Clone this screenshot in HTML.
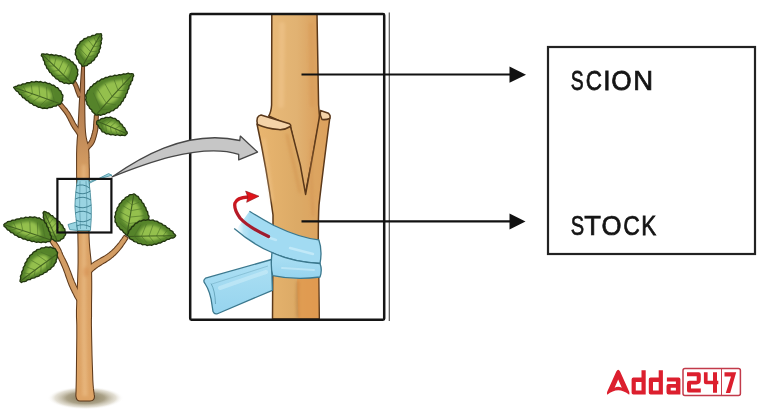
<!DOCTYPE html>
<html><head><meta charset="utf-8"><style>
html,body{margin:0;padding:0;background:#fff;}
body{width:768px;height:417px;overflow:hidden;position:relative;}
svg{position:absolute;left:0;top:0;font-family:"Liberation Sans",sans-serif;filter:blur(0.45px);}
</style></head><body>
<svg width="768" height="417" viewBox="0 0 768 417">
<defs>
<filter id="nofx"><feOffset dx="0" dy="0"/></filter>
<filter id="blur2" x="-50%" y="-10%" width="200%" height="120%"><feGaussianBlur stdDeviation="1.5"/></filter>
<filter id="blur1" x="-20%" y="-20%" width="140%" height="140%"><feGaussianBlur stdDeviation="1.6"/></filter>
<radialGradient id="shadow" cx="0.5" cy="0.5" r="0.5">
<stop offset="0" stop-color="#7a6c48" stop-opacity="0.95"/>
<stop offset="0.5" stop-color="#958a6a" stop-opacity="0.8"/>
<stop offset="0.8" stop-color="#c2baa2" stop-opacity="0.45"/>
<stop offset="1" stop-color="#ffffff" stop-opacity="0"/>
</radialGradient>
<linearGradient id="wood" x1="0" x2="1" y1="0" y2="0">
<stop offset="0" stop-color="#e8b978"/>
<stop offset="0.55" stop-color="#e1b272"/>
<stop offset="1" stop-color="#da9f5c"/>
</linearGradient>
<linearGradient id="wood2" gradientUnits="userSpaceOnUse" x1="257" x2="330" y1="0" y2="0">
<stop offset="0" stop-color="#e9b670"/>
<stop offset="0.55" stop-color="#dcaa66"/>
<stop offset="1" stop-color="#dca05c"/>
</linearGradient>
<linearGradient id="stem" x1="0" x2="0" y1="0" y2="1">
<stop offset="0" stop-color="#a8714a"/>
<stop offset="0.2" stop-color="#c08a58"/>
<stop offset="0.32" stop-color="#d8a064"/>
<stop offset="1" stop-color="#dea466"/>
</linearGradient>
<linearGradient id="trunk" x1="0" x2="1" y1="0" y2="0">
<stop offset="0" stop-color="#d8975a"/>
<stop offset="0.45" stop-color="#e9b47a"/>
<stop offset="1" stop-color="#d8944e"/>
</linearGradient>
<linearGradient id="stripfade" gradientUnits="userSpaceOnUse" x1="237" y1="0" x2="250" y2="0">
<stop offset="0" stop-color="#ade0f4" stop-opacity="0"/>
<stop offset="0.5" stop-color="#ade0f4" stop-opacity="0.85"/>
<stop offset="1" stop-color="#a2dbf2"/>
</linearGradient>
<linearGradient id="tape" x1="0" x2="0" y1="0" y2="1">
<stop offset="0" stop-color="#ade0f4"/>
<stop offset="1" stop-color="#96d4ee"/>
</linearGradient>
<linearGradient id="redg" gradientUnits="userSpaceOnUse" x1="268" y1="237" x2="247" y2="196">
<stop offset="0" stop-color="#9a1c30"/>
<stop offset="0.75" stop-color="#b41b28"/>
<stop offset="1" stop-color="#cc161e"/>
</linearGradient>
</defs>

<ellipse cx="85.5" cy="398" rx="38" ry="11.5" fill="url(#shadow)"/>
<path d="M69.6,79.4 L69.9,79.7 L70.2,80.1 L70.7,80.6 L71.1,81.1 L71.6,81.7 L72.1,82.3 L72.6,82.9 L73.1,83.5 L73.5,84.1 L73.8,84.7 L74.1,85.3 L74.4,86.0 L74.7,86.7 L75.0,87.5 L75.3,88.3 L75.6,89.2 L75.8,90.0 L76.1,90.8 L76.3,91.5 L76.6,92.2 L76.8,92.8 L77.1,93.4 L77.3,93.9 L77.5,94.5 L77.7,95.0 L77.9,95.4 L78.1,95.8 L78.2,96.2 L78.4,96.5 L78.5,96.7 L81.5,95.3 L81.4,95.0 L81.3,94.7 L81.1,94.4 L80.9,94.0 L80.7,93.6 L80.4,93.1 L80.2,92.6 L79.9,92.1 L79.7,91.6 L79.4,91.0 L79.2,90.4 L78.9,89.7 L78.6,89.0 L78.3,88.2 L78.0,87.4 L77.7,86.5 L77.4,85.7 L77.0,84.9 L76.6,84.1 L76.2,83.3 L75.7,82.6 L75.2,81.9 L74.6,81.2 L74.1,80.6 L73.5,80.0 L73.0,79.4 L72.5,78.9 L72.0,78.5 L71.7,78.1 L71.4,77.8 Z" fill="none" stroke="#5e3a1c" stroke-width="2.1" stroke-linejoin="round"/><path d="M57.4,103.4 L58.0,104.0 L58.7,104.8 L59.5,105.8 L60.4,106.9 L61.3,108.1 L62.3,109.3 L63.3,110.5 L64.3,111.8 L65.2,113.0 L65.9,114.1 L66.6,115.2 L67.3,116.4 L68.0,117.7 L68.6,118.9 L69.2,120.2 L69.8,121.4 L70.4,122.6 L71.0,123.8 L71.6,124.9 L72.2,125.9 L72.7,126.8 L73.2,127.6 L73.7,128.4 L74.2,129.1 L74.6,129.7 L75.1,130.3 L75.4,130.8 L75.8,131.3 L76.1,131.7 L76.4,132.1 L76.7,132.6 L76.9,133.0 L77.2,133.3 L77.4,133.7 L77.6,134.0 L77.7,134.3 L77.9,134.5 L78.0,134.8 L78.1,135.0 L78.2,135.2 L81.8,132.8 L81.6,132.7 L81.5,132.5 L81.3,132.3 L81.2,132.0 L81.0,131.8 L80.7,131.5 L80.5,131.1 L80.2,130.7 L79.9,130.3 L79.6,129.9 L79.2,129.4 L78.8,128.9 L78.4,128.4 L78.0,127.9 L77.6,127.4 L77.2,126.9 L76.7,126.3 L76.2,125.6 L75.8,124.9 L75.2,124.1 L74.7,123.2 L74.2,122.2 L73.6,121.1 L73.0,119.9 L72.3,118.6 L71.6,117.3 L70.9,116.0 L70.2,114.8 L69.5,113.5 L68.7,112.3 L67.8,111.1 L66.9,109.8 L65.8,108.5 L64.8,107.3 L63.8,106.1 L62.8,104.9 L61.8,103.8 L61.0,102.9 L60.3,102.1 L59.8,101.4 Z" fill="none" stroke="#5e3a1c" stroke-width="2.1" stroke-linejoin="round"/><path d="M94.9,115.2 L94.9,115.7 L94.8,116.4 L94.7,117.2 L94.7,118.2 L94.6,119.1 L94.5,120.2 L94.4,121.2 L94.3,122.2 L94.3,123.1 L94.2,123.9 L94.1,124.6 L94.1,125.3 L94.1,125.9 L94.1,126.5 L94.0,127.0 L94.0,127.5 L93.9,128.1 L93.9,128.6 L93.8,129.3 L93.6,130.0 L93.4,130.9 L93.1,132.0 L92.9,133.0 L92.5,134.2 L92.2,135.4 L91.9,136.5 L91.5,137.7 L91.1,138.7 L90.8,139.6 L90.4,140.4 L90.1,141.1 L89.7,141.7 L89.3,142.2 L88.9,142.7 L88.5,143.1 L88.1,143.6 L87.6,144.0 L87.2,144.4 L86.8,144.8 L86.4,145.2 L86.0,145.6 L85.7,145.9 L85.4,146.1 L85.1,146.3 L84.9,146.5 L84.6,146.7 L84.4,146.9 L84.1,147.1 L83.9,147.2 L83.7,147.4 L86.3,150.6 L86.4,150.5 L86.6,150.4 L86.8,150.2 L87.1,150.0 L87.4,149.7 L87.7,149.5 L88.1,149.1 L88.5,148.8 L88.9,148.4 L89.2,148.0 L89.6,147.6 L90.0,147.2 L90.4,146.7 L90.9,146.3 L91.4,145.7 L91.9,145.1 L92.4,144.4 L92.9,143.7 L93.3,142.9 L93.8,142.0 L94.2,141.0 L94.6,139.9 L95.0,138.8 L95.3,137.6 L95.7,136.4 L96.0,135.1 L96.3,133.9 L96.6,132.8 L96.8,131.7 L97.0,130.8 L97.2,129.9 L97.3,129.1 L97.3,128.4 L97.4,127.7 L97.4,127.1 L97.4,126.5 L97.4,126.0 L97.4,125.4 L97.4,124.8 L97.4,124.1 L97.5,123.3 L97.5,122.4 L97.6,121.4 L97.6,120.4 L97.7,119.4 L97.7,118.4 L97.8,117.4 L97.8,116.6 L97.9,115.9 L97.9,115.4 Z" fill="none" stroke="#5e3a1c" stroke-width="2.1" stroke-linejoin="round"/><path d="M49.4,240.1 L49.8,240.6 L50.3,241.3 L50.8,242.2 L51.5,243.1 L52.1,244.1 L52.8,245.2 L53.5,246.2 L54.1,247.2 L54.7,248.2 L55.2,249.0 L55.6,249.8 L55.9,250.5 L56.2,251.2 L56.5,251.9 L56.8,252.6 L57.1,253.4 L57.4,254.1 L57.7,255.0 L58.0,255.9 L58.5,256.9 L58.9,258.0 L59.4,259.0 L59.9,260.2 L60.5,261.3 L61.0,262.5 L61.6,263.7 L62.1,265.0 L62.7,266.2 L63.2,267.6 L63.8,268.9 L64.3,270.3 L64.9,271.9 L65.5,273.5 L66.0,275.1 L66.6,276.8 L67.2,278.5 L67.8,280.2 L68.4,281.9 L69.0,283.5 L69.6,285.0 L70.3,286.5 L70.9,287.9 L71.5,289.3 L72.2,290.6 L72.8,292.0 L73.5,293.2 L74.1,294.4 L74.6,295.5 L75.1,296.5 L75.6,297.4 L76.1,298.2 L76.5,298.9 L77.0,299.5 L77.4,300.1 L77.7,300.6 L78.1,301.0 L78.3,301.3 L78.5,301.5 L78.7,301.7 L78.8,301.8 L83.2,298.2 L83.0,297.9 L82.7,297.6 L82.5,297.4 L82.3,297.2 L82.0,296.9 L81.8,296.6 L81.5,296.3 L81.1,295.8 L80.8,295.3 L80.4,294.6 L79.9,293.8 L79.4,292.9 L78.8,291.9 L78.2,290.7 L77.5,289.5 L76.9,288.3 L76.3,287.0 L75.6,285.7 L75.0,284.3 L74.4,283.0 L73.8,281.6 L73.2,280.1 L72.5,278.5 L71.9,276.8 L71.3,275.2 L70.7,273.5 L70.1,271.8 L69.4,270.2 L68.8,268.6 L68.2,267.1 L67.6,265.7 L67.0,264.3 L66.4,263.0 L65.8,261.7 L65.2,260.5 L64.6,259.3 L64.0,258.2 L63.5,257.1 L63.0,256.1 L62.5,255.1 L62.1,254.2 L61.7,253.3 L61.4,252.5 L61.1,251.8 L60.8,251.0 L60.5,250.3 L60.1,249.5 L59.7,248.7 L59.3,247.9 L58.8,247.0 L58.2,246.0 L57.6,245.0 L56.9,244.0 L56.1,242.9 L55.4,241.9 L54.7,240.9 L54.0,240.0 L53.4,239.1 L52.9,238.5 L52.6,237.9 Z" fill="none" stroke="#5e3a1c" stroke-width="2.1" stroke-linejoin="round"/><path d="M124.4,235.9 L124.0,236.6 L123.3,237.4 L122.6,238.5 L121.8,239.6 L120.9,240.8 L120.0,242.1 L119.1,243.3 L118.1,244.5 L117.2,245.6 L116.4,246.6 L115.5,247.5 L114.7,248.4 L113.9,249.2 L113.1,250.0 L112.3,250.8 L111.4,251.6 L110.5,252.3 L109.6,253.1 L108.6,253.8 L107.6,254.6 L106.5,255.3 L105.3,256.1 L103.9,256.9 L102.5,257.7 L101.1,258.5 L99.7,259.3 L98.3,260.1 L97.0,260.9 L95.7,261.6 L94.5,262.3 L93.5,263.0 L92.6,263.6 L91.7,264.3 L90.9,264.9 L90.1,265.4 L89.5,266.0 L88.8,266.5 L88.2,267.0 L87.7,267.4 L87.1,267.8 L86.6,268.3 L86.1,268.7 L85.7,269.1 L85.3,269.5 L84.9,269.8 L84.6,270.1 L84.3,270.4 L84.1,270.6 L83.9,270.7 L83.8,270.9 L88.2,275.1 L88.4,274.9 L88.6,274.7 L88.8,274.4 L89.0,274.2 L89.2,273.9 L89.5,273.6 L89.8,273.3 L90.1,272.9 L90.4,272.6 L90.9,272.2 L91.4,271.7 L91.9,271.2 L92.4,270.7 L93.0,270.2 L93.6,269.7 L94.3,269.1 L95.0,268.6 L95.7,268.0 L96.6,267.3 L97.5,266.7 L98.5,266.0 L99.6,265.3 L100.9,264.5 L102.2,263.7 L103.6,262.8 L105.1,262.0 L106.5,261.1 L107.9,260.2 L109.2,259.3 L110.4,258.4 L111.5,257.5 L112.6,256.7 L113.5,255.8 L114.5,254.9 L115.4,254.1 L116.2,253.2 L117.1,252.3 L117.9,251.4 L118.8,250.4 L119.6,249.4 L120.5,248.3 L121.5,247.1 L122.4,245.8 L123.3,244.4 L124.2,243.1 L125.1,241.9 L125.8,240.7 L126.5,239.6 L127.1,238.8 L127.6,238.1 Z" fill="none" stroke="#5e3a1c" stroke-width="2.1" stroke-linejoin="round"/><path d="M82.2,66.0 L82.0,69.7 L81.6,74.9 L81.2,81.0 L80.8,87.6 L80.4,94.1 L80.0,100.0 L79.7,105.6 L79.4,111.3 L79.1,117.0 L78.8,122.4 L78.5,127.5 L78.3,132.0 L78.1,135.7 L77.8,138.6 L77.6,141.1 L77.5,143.6 L77.3,146.5 L77.2,150.0 L77.1,154.0 L77.1,158.1 L77.1,162.6 L77.1,167.6 L77.1,173.4 L77.2,180.0 L77.3,188.1 L77.6,197.6 L77.8,207.9 L78.0,218.1 L78.2,227.8 L78.4,236.0 L78.5,242.6 L78.6,248.1 L78.6,252.9 L78.6,257.5 L78.6,262.4 L78.5,268.0 L78.3,274.7 L78.1,282.1 L77.7,289.8 L77.4,297.3 L77.2,304.2 L77.0,310.0 L77.0,314.3 L77.0,317.2 L77.1,319.5 L77.2,321.9 L77.3,325.2 L77.3,330.0 L77.3,337.0 L77.2,345.7 L77.1,355.2 L77.0,364.7 L76.9,373.3 L76.8,380.0 L76.7,384.8 L76.6,388.4 L76.6,391.1 L76.5,393.1 L76.4,394.7 L76.4,396.0 Q77,400.5 80,400.5 L90,400.5 Q94.2,400.5 93.9,396.0 L93.7,394.7 L93.5,393.1 L93.2,391.1 L92.9,388.4 L92.6,384.8 L92.3,380.0 L92.1,373.3 L91.8,364.7 L91.5,355.2 L91.3,345.7 L91.1,337.0 L91.0,330.0 L90.9,325.2 L90.9,321.9 L90.9,319.5 L91.0,317.2 L91.0,314.3 L91.0,310.0 L91.0,304.2 L91.1,297.3 L91.2,289.8 L91.2,282.1 L91.1,274.7 L91.0,268.0 L90.7,262.4 L90.2,257.5 L89.7,252.9 L89.2,248.1 L88.8,242.6 L88.5,236.0 L88.4,227.6 L88.4,217.7 L88.5,207.1 L88.6,196.7 L88.7,187.4 L88.8,180.0 L88.8,174.9 L88.8,171.4 L88.8,168.9 L88.7,167.1 L88.7,165.3 L88.6,163.0 L88.6,160.4 L88.5,157.9 L88.5,155.4 L88.4,153.0 L88.2,150.5 L88.0,148.0 L87.6,145.6 L87.1,143.3 L86.5,141.1 L85.9,138.6 L85.4,135.6 L85.0,132.0 L84.7,127.6 L84.5,122.6 L84.4,117.1 L84.3,111.4 L84.3,105.6 L84.2,100.0 L84.1,94.1 L84.1,87.6 L84.1,81.0 L84.0,74.9 L84.0,69.7 L84.0,66.0 Z" fill="none" stroke="#5e3a1c" stroke-width="2.1" stroke-linejoin="round"/><path d="M69.6,79.4 L69.9,79.7 L70.2,80.1 L70.7,80.6 L71.1,81.1 L71.6,81.7 L72.1,82.3 L72.6,82.9 L73.1,83.5 L73.5,84.1 L73.8,84.7 L74.1,85.3 L74.4,86.0 L74.7,86.7 L75.0,87.5 L75.3,88.3 L75.6,89.2 L75.8,90.0 L76.1,90.8 L76.3,91.5 L76.6,92.2 L76.8,92.8 L77.1,93.4 L77.3,93.9 L77.5,94.5 L77.7,95.0 L77.9,95.4 L78.1,95.8 L78.2,96.2 L78.4,96.5 L78.5,96.7 L81.5,95.3 L81.4,95.0 L81.3,94.7 L81.1,94.4 L80.9,94.0 L80.7,93.6 L80.4,93.1 L80.2,92.6 L79.9,92.1 L79.7,91.6 L79.4,91.0 L79.2,90.4 L78.9,89.7 L78.6,89.0 L78.3,88.2 L78.0,87.4 L77.7,86.5 L77.4,85.7 L77.0,84.9 L76.6,84.1 L76.2,83.3 L75.7,82.6 L75.2,81.9 L74.6,81.2 L74.1,80.6 L73.5,80.0 L73.0,79.4 L72.5,78.9 L72.0,78.5 L71.7,78.1 L71.4,77.8 Z" fill="#b07a4c"/><path d="M57.4,103.4 L58.0,104.0 L58.7,104.8 L59.5,105.8 L60.4,106.9 L61.3,108.1 L62.3,109.3 L63.3,110.5 L64.3,111.8 L65.2,113.0 L65.9,114.1 L66.6,115.2 L67.3,116.4 L68.0,117.7 L68.6,118.9 L69.2,120.2 L69.8,121.4 L70.4,122.6 L71.0,123.8 L71.6,124.9 L72.2,125.9 L72.7,126.8 L73.2,127.6 L73.7,128.4 L74.2,129.1 L74.6,129.7 L75.1,130.3 L75.4,130.8 L75.8,131.3 L76.1,131.7 L76.4,132.1 L76.7,132.6 L76.9,133.0 L77.2,133.3 L77.4,133.7 L77.6,134.0 L77.7,134.3 L77.9,134.5 L78.0,134.8 L78.1,135.0 L78.2,135.2 L81.8,132.8 L81.6,132.7 L81.5,132.5 L81.3,132.3 L81.2,132.0 L81.0,131.8 L80.7,131.5 L80.5,131.1 L80.2,130.7 L79.9,130.3 L79.6,129.9 L79.2,129.4 L78.8,128.9 L78.4,128.4 L78.0,127.9 L77.6,127.4 L77.2,126.9 L76.7,126.3 L76.2,125.6 L75.8,124.9 L75.2,124.1 L74.7,123.2 L74.2,122.2 L73.6,121.1 L73.0,119.9 L72.3,118.6 L71.6,117.3 L70.9,116.0 L70.2,114.8 L69.5,113.5 L68.7,112.3 L67.8,111.1 L66.9,109.8 L65.8,108.5 L64.8,107.3 L63.8,106.1 L62.8,104.9 L61.8,103.8 L61.0,102.9 L60.3,102.1 L59.8,101.4 Z" fill="#bb8452"/><path d="M94.9,115.2 L94.9,115.7 L94.8,116.4 L94.7,117.2 L94.7,118.2 L94.6,119.1 L94.5,120.2 L94.4,121.2 L94.3,122.2 L94.3,123.1 L94.2,123.9 L94.1,124.6 L94.1,125.3 L94.1,125.9 L94.1,126.5 L94.0,127.0 L94.0,127.5 L93.9,128.1 L93.9,128.6 L93.8,129.3 L93.6,130.0 L93.4,130.9 L93.1,132.0 L92.9,133.0 L92.5,134.2 L92.2,135.4 L91.9,136.5 L91.5,137.7 L91.1,138.7 L90.8,139.6 L90.4,140.4 L90.1,141.1 L89.7,141.7 L89.3,142.2 L88.9,142.7 L88.5,143.1 L88.1,143.6 L87.6,144.0 L87.2,144.4 L86.8,144.8 L86.4,145.2 L86.0,145.6 L85.7,145.9 L85.4,146.1 L85.1,146.3 L84.9,146.5 L84.6,146.7 L84.4,146.9 L84.1,147.1 L83.9,147.2 L83.7,147.4 L86.3,150.6 L86.4,150.5 L86.6,150.4 L86.8,150.2 L87.1,150.0 L87.4,149.7 L87.7,149.5 L88.1,149.1 L88.5,148.8 L88.9,148.4 L89.2,148.0 L89.6,147.6 L90.0,147.2 L90.4,146.7 L90.9,146.3 L91.4,145.7 L91.9,145.1 L92.4,144.4 L92.9,143.7 L93.3,142.9 L93.8,142.0 L94.2,141.0 L94.6,139.9 L95.0,138.8 L95.3,137.6 L95.7,136.4 L96.0,135.1 L96.3,133.9 L96.6,132.8 L96.8,131.7 L97.0,130.8 L97.2,129.9 L97.3,129.1 L97.3,128.4 L97.4,127.7 L97.4,127.1 L97.4,126.5 L97.4,126.0 L97.4,125.4 L97.4,124.8 L97.4,124.1 L97.5,123.3 L97.5,122.4 L97.6,121.4 L97.6,120.4 L97.7,119.4 L97.7,118.4 L97.8,117.4 L97.8,116.6 L97.9,115.9 L97.9,115.4 Z" fill="#bb8452"/><path d="M49.4,240.1 L49.8,240.6 L50.3,241.3 L50.8,242.2 L51.5,243.1 L52.1,244.1 L52.8,245.2 L53.5,246.2 L54.1,247.2 L54.7,248.2 L55.2,249.0 L55.6,249.8 L55.9,250.5 L56.2,251.2 L56.5,251.9 L56.8,252.6 L57.1,253.4 L57.4,254.1 L57.7,255.0 L58.0,255.9 L58.5,256.9 L58.9,258.0 L59.4,259.0 L59.9,260.2 L60.5,261.3 L61.0,262.5 L61.6,263.7 L62.1,265.0 L62.7,266.2 L63.2,267.6 L63.8,268.9 L64.3,270.3 L64.9,271.9 L65.5,273.5 L66.0,275.1 L66.6,276.8 L67.2,278.5 L67.8,280.2 L68.4,281.9 L69.0,283.5 L69.6,285.0 L70.3,286.5 L70.9,287.9 L71.5,289.3 L72.2,290.6 L72.8,292.0 L73.5,293.2 L74.1,294.4 L74.6,295.5 L75.1,296.5 L75.6,297.4 L76.1,298.2 L76.5,298.9 L77.0,299.5 L77.4,300.1 L77.7,300.6 L78.1,301.0 L78.3,301.3 L78.5,301.5 L78.7,301.7 L78.8,301.8 L83.2,298.2 L83.0,297.9 L82.7,297.6 L82.5,297.4 L82.3,297.2 L82.0,296.9 L81.8,296.6 L81.5,296.3 L81.1,295.8 L80.8,295.3 L80.4,294.6 L79.9,293.8 L79.4,292.9 L78.8,291.9 L78.2,290.7 L77.5,289.5 L76.9,288.3 L76.3,287.0 L75.6,285.7 L75.0,284.3 L74.4,283.0 L73.8,281.6 L73.2,280.1 L72.5,278.5 L71.9,276.8 L71.3,275.2 L70.7,273.5 L70.1,271.8 L69.4,270.2 L68.8,268.6 L68.2,267.1 L67.6,265.7 L67.0,264.3 L66.4,263.0 L65.8,261.7 L65.2,260.5 L64.6,259.3 L64.0,258.2 L63.5,257.1 L63.0,256.1 L62.5,255.1 L62.1,254.2 L61.7,253.3 L61.4,252.5 L61.1,251.8 L60.8,251.0 L60.5,250.3 L60.1,249.5 L59.7,248.7 L59.3,247.9 L58.8,247.0 L58.2,246.0 L57.6,245.0 L56.9,244.0 L56.1,242.9 L55.4,241.9 L54.7,240.9 L54.0,240.0 L53.4,239.1 L52.9,238.5 L52.6,237.9 Z" fill="#d39d64"/><path d="M124.4,235.9 L124.0,236.6 L123.3,237.4 L122.6,238.5 L121.8,239.6 L120.9,240.8 L120.0,242.1 L119.1,243.3 L118.1,244.5 L117.2,245.6 L116.4,246.6 L115.5,247.5 L114.7,248.4 L113.9,249.2 L113.1,250.0 L112.3,250.8 L111.4,251.6 L110.5,252.3 L109.6,253.1 L108.6,253.8 L107.6,254.6 L106.5,255.3 L105.3,256.1 L103.9,256.9 L102.5,257.7 L101.1,258.5 L99.7,259.3 L98.3,260.1 L97.0,260.9 L95.7,261.6 L94.5,262.3 L93.5,263.0 L92.6,263.6 L91.7,264.3 L90.9,264.9 L90.1,265.4 L89.5,266.0 L88.8,266.5 L88.2,267.0 L87.7,267.4 L87.1,267.8 L86.6,268.3 L86.1,268.7 L85.7,269.1 L85.3,269.5 L84.9,269.8 L84.6,270.1 L84.3,270.4 L84.1,270.6 L83.9,270.7 L83.8,270.9 L88.2,275.1 L88.4,274.9 L88.6,274.7 L88.8,274.4 L89.0,274.2 L89.2,273.9 L89.5,273.6 L89.8,273.3 L90.1,272.9 L90.4,272.6 L90.9,272.2 L91.4,271.7 L91.9,271.2 L92.4,270.7 L93.0,270.2 L93.6,269.7 L94.3,269.1 L95.0,268.6 L95.7,268.0 L96.6,267.3 L97.5,266.7 L98.5,266.0 L99.6,265.3 L100.9,264.5 L102.2,263.7 L103.6,262.8 L105.1,262.0 L106.5,261.1 L107.9,260.2 L109.2,259.3 L110.4,258.4 L111.5,257.5 L112.6,256.7 L113.5,255.8 L114.5,254.9 L115.4,254.1 L116.2,253.2 L117.1,252.3 L117.9,251.4 L118.8,250.4 L119.6,249.4 L120.5,248.3 L121.5,247.1 L122.4,245.8 L123.3,244.4 L124.2,243.1 L125.1,241.9 L125.8,240.7 L126.5,239.6 L127.1,238.8 L127.6,238.1 Z" fill="#d39d64"/><path d="M82.2,66.0 L82.0,69.7 L81.6,74.9 L81.2,81.0 L80.8,87.6 L80.4,94.1 L80.0,100.0 L79.7,105.6 L79.4,111.3 L79.1,117.0 L78.8,122.4 L78.5,127.5 L78.3,132.0 L78.1,135.7 L77.8,138.6 L77.6,141.1 L77.5,143.6 L77.3,146.5 L77.2,150.0 L77.1,154.0 L77.1,158.1 L77.1,162.6 L77.1,167.6 L77.1,173.4 L77.2,180.0 L77.3,188.1 L77.6,197.6 L77.8,207.9 L78.0,218.1 L78.2,227.8 L78.4,236.0 L78.5,242.6 L78.6,248.1 L78.6,252.9 L78.6,257.5 L78.6,262.4 L78.5,268.0 L78.3,274.7 L78.1,282.1 L77.7,289.8 L77.4,297.3 L77.2,304.2 L77.0,310.0 L77.0,314.3 L77.0,317.2 L77.1,319.5 L77.2,321.9 L77.3,325.2 L77.3,330.0 L77.3,337.0 L77.2,345.7 L77.1,355.2 L77.0,364.7 L76.9,373.3 L76.8,380.0 L76.7,384.8 L76.6,388.4 L76.6,391.1 L76.5,393.1 L76.4,394.7 L76.4,396.0 Q77,400.5 80,400.5 L90,400.5 Q94.2,400.5 93.9,396.0 L93.7,394.7 L93.5,393.1 L93.2,391.1 L92.9,388.4 L92.6,384.8 L92.3,380.0 L92.1,373.3 L91.8,364.7 L91.5,355.2 L91.3,345.7 L91.1,337.0 L91.0,330.0 L90.9,325.2 L90.9,321.9 L90.9,319.5 L91.0,317.2 L91.0,314.3 L91.0,310.0 L91.0,304.2 L91.1,297.3 L91.2,289.8 L91.2,282.1 L91.1,274.7 L91.0,268.0 L90.7,262.4 L90.2,257.5 L89.7,252.9 L89.2,248.1 L88.8,242.6 L88.5,236.0 L88.4,227.6 L88.4,217.7 L88.5,207.1 L88.6,196.7 L88.7,187.4 L88.8,180.0 L88.8,174.9 L88.8,171.4 L88.8,168.9 L88.7,167.1 L88.7,165.3 L88.6,163.0 L88.6,160.4 L88.5,157.9 L88.5,155.4 L88.4,153.0 L88.2,150.5 L88.0,148.0 L87.6,145.6 L87.1,143.3 L86.5,141.1 L85.9,138.6 L85.4,135.6 L85.0,132.0 L84.7,127.6 L84.5,122.6 L84.4,117.1 L84.3,111.4 L84.3,105.6 L84.2,100.0 L84.1,94.1 L84.1,87.6 L84.1,81.0 L84.0,74.9 L84.0,69.7 L84.0,66.0 Z" fill="url(#stem)"/><path d="M82,165 L85.5,165 L86.5,330 L87.5,396 L82.5,396 L81.5,330 Z" fill="#efc590" opacity="0.5" filter="url(#blur1)"/><ellipse cx="86" cy="272" rx="3" ry="5" fill="#d08040" opacity="0.35" filter="url(#blur1)"/>

<path d="M82.6,66.3 L81.5,65.0 L80.7,63.7 L79.3,62.9 L78.7,61.4 L78.2,59.9 L76.9,58.9 L76.6,57.4 L76.4,55.9 L75.3,54.6 L75.4,53.0 L75.8,51.5 L75.4,49.9 L76.2,48.5 L77.1,47.2 L77.3,45.6 L78.4,44.5 L79.6,43.5 L80.1,41.9 L81.5,41.1 L82.9,40.4 L83.7,39.0 L85.2,38.5 L86.7,38.1 L87.8,36.9 L89.4,36.8 L90.9,36.6 L92.1,35.5 L93.6,35.3 L95.2,35.1 L96.4,33.9 L97.9,33.8 L99.5,33.9 L101.2,33.7 L101.7,35.4 L101.4,36.9 L102.0,38.5 L101.5,39.9 L100.9,41.4 L101.4,43.0 L100.8,44.4 L100.2,45.8 L100.6,47.5 L99.9,48.9 L99.1,50.2 L99.3,51.9 L98.4,53.1 L97.4,54.3 L97.2,56.0 L96.1,57.1 L94.9,58.1 L94.4,59.7 L93.2,60.6 L91.8,61.3 L91.1,62.9 L89.7,63.5 L88.2,64.0 L87.3,65.4 L85.8,65.8 L84.3,65.9 Z" fill="#55832a" stroke="#22360f" stroke-width="1.35" stroke-linejoin="round"/><path d="M86.1,58.3 L85.8,58.1 L85.5,57.8 L85.2,57.5 L84.9,57.1 L84.5,56.7 L84.2,56.3 L83.9,55.9 L83.6,55.4 L83.4,55.0 L83.1,54.6 L82.9,54.1 L82.7,53.7 L82.5,53.3 L82.3,52.8 L82.1,52.4 L82.0,51.9 L81.8,51.5 L81.7,51.0 L81.7,50.5 L81.7,50.1 L81.7,49.6 L81.7,49.2 L81.8,48.7 L81.9,48.3 L82.1,47.8 L82.2,47.4 L82.4,46.9 L82.7,46.5 L82.9,46.0 L83.1,45.6 L83.4,45.2 L83.7,44.8 L84.1,44.4 L84.4,44.0 L84.8,43.6 L85.2,43.2 L85.6,42.9 L86.0,42.5 L86.5,42.2 L86.9,41.9 L87.3,41.6 L87.7,41.4 L88.1,41.2 L88.5,41.0 L89.0,40.8 L89.4,40.7 L89.9,40.5 L90.3,40.4 L90.8,40.2 L91.3,40.0 L91.9,39.8 L92.5,39.6 L93.2,39.3 L93.9,39.1 L94.6,38.8 L95.3,38.6 L95.9,38.5 L96.4,38.4 L96.9,38.4 L97.3,38.6 L97.5,38.8 L97.7,39.2 L97.8,39.7 L97.8,40.3 L97.7,40.9 L97.7,41.5 L97.6,42.2 L97.5,42.9 L97.4,43.5 L97.3,44.1 L97.2,44.7 L97.1,45.3 L97.0,45.9 L96.9,46.6 L96.7,47.2 L96.6,47.8 L96.4,48.4 L96.2,49.0 L96.0,49.6 L95.8,50.1 L95.6,50.6 L95.3,51.1 L95.0,51.6 L94.7,52.1 L94.4,52.5 L94.1,52.9 L93.8,53.4 L93.5,53.8 L93.1,54.2 L92.8,54.6 L92.5,54.9 L92.1,55.3 L91.7,55.6 L91.3,56.0 L91.0,56.3 L90.6,56.6 L90.2,56.8 L89.8,57.1 L89.4,57.3 L89.1,57.5 L88.8,57.7 L88.5,57.9 L88.1,58.1 L87.9,58.2 L87.6,58.3 L87.3,58.4 L87.0,58.4 L86.7,58.4 L86.4,58.4 Z" fill="#94c04e" filter="url(#blur1)"/><path d="M82.8,65.8 Q91.4,49.8 100.8,34.0" fill="none" stroke="#3b5a1d" stroke-width="1.1" opacity="0.9"/><line x1="85.0" y1="62.0" x2="91.8" y2="59.9" stroke="#4a7025" stroke-width="0.75" opacity="0.8"/><line x1="85.0" y1="62.0" x2="78.4" y2="52.2" stroke="#4a7025" stroke-width="0.75" opacity="0.8"/><line x1="87.8" y1="56.9" x2="94.8" y2="55.5" stroke="#4a7025" stroke-width="0.75" opacity="0.8"/><line x1="87.8" y1="56.9" x2="80.2" y2="48.8" stroke="#4a7025" stroke-width="0.75" opacity="0.8"/><line x1="90.7" y1="51.8" x2="97.0" y2="51.1" stroke="#4a7025" stroke-width="0.75" opacity="0.8"/><line x1="90.7" y1="51.8" x2="83.7" y2="44.1" stroke="#4a7025" stroke-width="0.75" opacity="0.8"/><line x1="93.6" y1="46.7" x2="98.6" y2="46.1" stroke="#4a7025" stroke-width="0.75" opacity="0.8"/><line x1="93.6" y1="46.7" x2="88.4" y2="40.1" stroke="#4a7025" stroke-width="0.75" opacity="0.8"/><line x1="96.1" y1="42.3" x2="100.0" y2="40.5" stroke="#4a7025" stroke-width="0.75" opacity="0.8"/><line x1="96.1" y1="42.3" x2="93.9" y2="37.3" stroke="#4a7025" stroke-width="0.75" opacity="0.8"/><path d="M41.8,54.0 L43.7,54.0 L45.2,54.4 L46.8,53.9 L48.3,54.4 L49.7,55.0 L51.3,54.5 L52.8,55.0 L54.3,55.5 L55.8,54.9 L57.3,55.4 L58.8,56.0 L60.4,55.6 L61.8,56.3 L63.2,57.2 L64.9,57.1 L66.1,58.1 L67.3,59.1 L69.0,59.3 L70.1,60.4 L71.1,61.6 L72.7,62.0 L73.6,63.3 L74.4,64.6 L75.9,65.4 L76.4,67.0 L76.7,68.5 L77.8,69.8 L77.7,71.4 L77.4,72.9 L77.9,74.5 L77.2,76.0 L76.3,77.3 L76.3,79.0 L75.3,80.2 L74.2,81.3 L73.8,83.0 L72.1,83.3 L70.5,83.1 L69.0,83.8 L67.4,83.4 L66.0,82.9 L64.3,83.3 L62.9,82.5 L61.7,81.6 L60.0,81.5 L58.9,80.4 L57.8,79.2 L56.2,78.8 L55.2,77.6 L54.3,76.3 L52.7,75.7 L51.9,74.4 L51.2,73.0 L49.7,72.3 L49.0,70.9 L48.4,69.4 L47.0,68.5 L46.5,67.0 L46.1,65.5 L44.9,64.4 L44.7,62.8 L44.5,61.2 L43.4,60.0 L43.1,58.5 L42.7,57.0 L41.3,55.8 Z" fill="#55832a" stroke="#22360f" stroke-width="1.35" stroke-linejoin="round"/><path d="M47.6,58.4 L47.9,58.3 L48.3,58.2 L48.9,58.2 L49.4,58.3 L50.1,58.3 L50.8,58.4 L51.5,58.5 L52.1,58.6 L52.8,58.7 L53.4,58.8 L54.1,58.9 L54.7,58.9 L55.3,59.0 L56.0,59.0 L56.6,59.1 L57.2,59.2 L57.9,59.3 L58.5,59.4 L59.1,59.5 L59.7,59.7 L60.3,59.9 L60.9,60.1 L61.4,60.3 L62.0,60.6 L62.5,60.8 L63.1,61.1 L63.6,61.4 L64.1,61.7 L64.6,62.0 L65.0,62.3 L65.5,62.7 L65.9,63.0 L66.3,63.3 L66.7,63.7 L67.1,64.0 L67.4,64.4 L67.8,64.8 L68.1,65.1 L68.3,65.5 L68.6,65.9 L68.8,66.3 L69.0,66.8 L69.1,67.2 L69.3,67.7 L69.4,68.1 L69.5,68.6 L69.5,69.0 L69.5,69.5 L69.5,70.0 L69.5,70.4 L69.4,70.9 L69.3,71.3 L69.2,71.8 L69.0,72.3 L68.8,72.8 L68.6,73.3 L68.3,73.8 L68.1,74.2 L67.9,74.5 L67.7,74.9 L67.5,75.1 L67.4,75.4 L67.3,75.5 L67.2,75.7 L67.0,75.8 L66.9,75.9 L66.7,76.0 L66.5,76.1 L66.2,76.1 L65.9,76.2 L65.5,76.2 L65.1,76.2 L64.6,76.3 L64.0,76.3 L63.5,76.3 L62.9,76.2 L62.3,76.1 L61.7,76.0 L61.1,75.9 L60.6,75.7 L60.0,75.5 L59.5,75.3 L58.9,75.0 L58.4,74.6 L57.9,74.3 L57.3,73.9 L56.8,73.5 L56.3,73.1 L55.7,72.6 L55.2,72.2 L54.8,71.7 L54.3,71.2 L53.8,70.7 L53.3,70.2 L52.8,69.6 L52.4,69.0 L51.9,68.5 L51.5,67.9 L51.1,67.4 L50.8,66.8 L50.5,66.3 L50.2,65.7 L49.9,65.1 L49.7,64.6 L49.4,64.0 L49.2,63.4 L49.1,62.9 L48.9,62.4 L48.7,61.9 L48.5,61.5 L48.4,61.1 L48.2,60.7 L48.0,60.3 L47.8,59.9 L47.6,59.6 L47.4,59.3 L47.4,59.0 L47.3,58.7 L47.4,58.5 Z" fill="#94c04e" filter="url(#blur1)"/><path d="M71.7,83.1 Q57.4,68.6 42.2,54.4" fill="none" stroke="#3b5a1d" stroke-width="1.1" opacity="0.9"/><line x1="68.2" y1="79.7" x2="72.2" y2="67.6" stroke="#4a7025" stroke-width="0.75" opacity="0.8"/><line x1="68.2" y1="79.7" x2="59.8" y2="79.0" stroke="#4a7025" stroke-width="0.75" opacity="0.8"/><line x1="63.4" y1="75.1" x2="68.6" y2="64.4" stroke="#4a7025" stroke-width="0.75" opacity="0.8"/><line x1="63.4" y1="75.1" x2="56.1" y2="75.7" stroke="#4a7025" stroke-width="0.75" opacity="0.8"/><line x1="58.7" y1="70.5" x2="63.0" y2="60.8" stroke="#4a7025" stroke-width="0.75" opacity="0.8"/><line x1="58.7" y1="70.5" x2="52.1" y2="71.3" stroke="#4a7025" stroke-width="0.75" opacity="0.8"/><line x1="54.0" y1="65.9" x2="56.0" y2="58.2" stroke="#4a7025" stroke-width="0.75" opacity="0.8"/><line x1="54.0" y1="65.9" x2="48.2" y2="66.1" stroke="#4a7025" stroke-width="0.75" opacity="0.8"/><line x1="49.9" y1="61.9" x2="49.6" y2="56.6" stroke="#4a7025" stroke-width="0.75" opacity="0.8"/><line x1="49.9" y1="61.9" x2="45.6" y2="61.1" stroke="#4a7025" stroke-width="0.75" opacity="0.8"/><path d="M13.6,87.3 L15.3,86.5 L16.8,86.3 L18.1,85.2 L19.6,85.1 L21.2,85.1 L22.4,84.0 L24.0,83.9 L25.5,83.8 L26.8,82.7 L28.4,82.7 L29.9,82.7 L31.3,81.7 L32.8,81.9 L34.4,82.1 L35.9,81.4 L37.4,81.7 L38.9,82.1 L40.5,81.5 L41.9,82.1 L43.4,82.6 L45.0,82.2 L46.4,82.9 L47.8,83.6 L49.4,83.4 L50.8,84.3 L52.0,85.2 L53.7,85.2 L54.9,86.3 L56.0,87.4 L57.6,87.7 L58.6,89.0 L59.3,90.3 L60.8,91.1 L61.3,92.6 L61.7,94.1 L62.9,95.3 L62.8,97.0 L62.4,98.5 L62.7,100.1 L61.9,101.4 L61.3,102.8 L60.5,104.2 L58.9,104.6 L57.4,104.8 L56.2,106.0 L54.7,106.2 L53.1,106.3 L51.9,107.4 L50.3,107.5 L48.8,107.5 L47.4,108.5 L45.8,108.4 L44.3,108.0 L42.7,108.5 L41.3,107.9 L39.9,107.1 L38.3,107.3 L37.0,106.4 L35.7,105.5 L34.1,105.4 L32.9,104.4 L31.8,103.3 L30.1,103.1 L29.0,102.0 L28.0,100.8 L26.4,100.4 L25.4,99.2 L24.4,98.0 L22.8,97.6 L22.0,96.3 L21.1,94.9 L19.6,94.3 L18.8,93.0 L18.0,91.6 L16.5,91.1 L15.5,89.9 L14.6,88.7 Z" fill="#55832a" stroke="#22360f" stroke-width="1.35" stroke-linejoin="round"/><path d="M21.7,89.4 L21.9,89.2 L22.3,89.0 L22.7,88.9 L23.2,88.7 L23.8,88.5 L24.4,88.3 L25.0,88.1 L25.6,88.0 L26.2,87.8 L26.8,87.6 L27.4,87.5 L27.9,87.3 L28.5,87.1 L29.1,87.0 L29.7,86.8 L30.3,86.6 L30.9,86.5 L31.5,86.4 L32.1,86.2 L32.7,86.2 L33.3,86.1 L33.9,86.0 L34.5,86.0 L35.1,86.0 L35.7,86.0 L36.3,86.0 L36.9,86.0 L37.5,86.0 L38.1,86.1 L38.7,86.2 L39.3,86.2 L39.9,86.3 L40.5,86.4 L41.1,86.6 L41.7,86.7 L42.3,86.9 L42.9,87.0 L43.5,87.2 L44.1,87.4 L44.6,87.6 L45.1,87.9 L45.7,88.1 L46.2,88.4 L46.7,88.7 L47.2,89.0 L47.7,89.3 L48.2,89.6 L48.6,89.9 L49.0,90.3 L49.4,90.6 L49.7,91.0 L50.1,91.4 L50.4,91.8 L50.6,92.2 L50.9,92.7 L51.1,93.1 L51.3,93.5 L51.5,94.0 L51.6,94.4 L51.7,94.8 L51.8,95.2 L51.8,95.6 L51.8,96.0 L51.7,96.3 L51.7,96.7 L51.6,97.1 L51.5,97.4 L51.4,97.8 L51.3,98.0 L51.2,98.3 L51.1,98.5 L51.1,98.7 L51.1,98.8 L51.1,98.9 L51.0,99.0 L51.0,99.1 L50.9,99.2 L50.7,99.3 L50.5,99.4 L50.2,99.5 L49.9,99.7 L49.4,99.9 L48.9,100.1 L48.3,100.4 L47.7,100.6 L47.0,100.8 L46.4,101.1 L45.7,101.3 L45.2,101.4 L44.6,101.6 L44.1,101.7 L43.6,101.9 L43.2,102.0 L42.7,102.1 L42.3,102.2 L41.8,102.2 L41.4,102.3 L40.9,102.3 L40.4,102.3 L39.9,102.2 L39.3,102.1 L38.8,102.0 L38.2,101.8 L37.6,101.7 L37.0,101.5 L36.4,101.2 L35.8,101.0 L35.2,100.7 L34.5,100.4 L33.9,100.1 L33.3,99.8 L32.7,99.4 L32.1,99.0 L31.5,98.6 L30.9,98.2 L30.2,97.7 L29.6,97.3 L29.1,96.8 L28.5,96.4 L28.0,96.0 L27.5,95.5 L27.0,95.1 L26.5,94.6 L26.1,94.2 L25.7,93.8 L25.3,93.3 L24.9,92.9 L24.5,92.5 L24.2,92.1 L23.8,91.8 L23.5,91.5 L23.2,91.2 L22.8,90.9 L22.5,90.7 L22.2,90.5 L22.0,90.3 L21.8,90.0 L21.7,89.8 L21.6,89.6 Z" fill="#94c04e" filter="url(#blur1)"/><path d="M60.1,103.8 Q37.5,95.4 14.1,87.5" fill="none" stroke="#3b5a1d" stroke-width="1.1" opacity="0.9"/><line x1="54.6" y1="101.8" x2="51.2" y2="88.7" stroke="#4a7025" stroke-width="0.75" opacity="0.8"/><line x1="54.6" y1="101.8" x2="45.5" y2="106.4" stroke="#4a7025" stroke-width="0.75" opacity="0.8"/><line x1="47.2" y1="99.2" x2="46.5" y2="87.1" stroke="#4a7025" stroke-width="0.75" opacity="0.8"/><line x1="47.2" y1="99.2" x2="40.8" y2="105.0" stroke="#4a7025" stroke-width="0.75" opacity="0.8"/><line x1="39.9" y1="96.6" x2="38.9" y2="85.6" stroke="#4a7025" stroke-width="0.75" opacity="0.8"/><line x1="39.9" y1="96.6" x2="33.1" y2="101.4" stroke="#4a7025" stroke-width="0.75" opacity="0.8"/><line x1="32.5" y1="94.0" x2="31.3" y2="85.3" stroke="#4a7025" stroke-width="0.75" opacity="0.8"/><line x1="32.5" y1="94.0" x2="26.9" y2="97.5" stroke="#4a7025" stroke-width="0.75" opacity="0.8"/><line x1="26.1" y1="91.7" x2="23.2" y2="86.4" stroke="#4a7025" stroke-width="0.75" opacity="0.8"/><line x1="26.1" y1="91.7" x2="20.9" y2="92.8" stroke="#4a7025" stroke-width="0.75" opacity="0.8"/><path d="M133.1,74.0 L131.4,73.6 L129.8,73.8 L128.3,73.2 L126.8,73.7 L125.4,74.2 L123.8,73.8 L122.3,74.4 L120.9,75.0 L119.3,74.6 L117.9,75.2 L116.4,75.7 L114.8,75.2 L113.4,75.8 L111.9,76.4 L110.3,76.1 L108.9,76.7 L107.5,77.5 L105.9,77.3 L104.6,78.1 L103.3,79.0 L101.6,79.0 L100.4,80.0 L99.3,81.1 L97.6,81.2 L96.5,82.3 L95.5,83.5 L93.8,83.8 L92.9,85.1 L92.0,86.4 L90.4,87.0 L89.7,88.3 L89.0,89.7 L87.6,90.6 L87.1,92.1 L86.8,93.6 L85.7,94.9 L85.8,96.5 L86.1,98.0 L85.6,99.6 L86.2,101.1 L86.9,102.4 L86.9,104.1 L87.9,105.3 L89.1,106.4 L89.4,108.0 L90.6,109.0 L91.8,110.0 L92.1,111.6 L93.3,112.6 L94.6,113.5 L95.6,114.9 L97.2,115.0 L98.7,114.7 L100.3,115.4 L101.8,114.8 L103.2,114.1 L104.8,114.3 L106.1,113.5 L107.4,112.6 L109.1,112.7 L110.3,111.7 L111.6,110.8 L113.2,110.7 L114.4,109.6 L115.4,108.4 L117.1,108.1 L118.0,106.8 L118.8,105.5 L120.3,104.8 L121.0,103.4 L121.6,101.9 L123.0,101.1 L123.5,99.6 L124.0,98.1 L125.4,97.1 L125.7,95.6 L126.0,94.1 L127.2,92.9 L127.5,91.4 L127.7,89.9 L128.8,88.7 L129.0,87.1 L129.2,85.6 L130.5,84.5 L130.8,83.0 L131.1,81.5 L132.4,80.4 L132.6,78.8 L132.7,77.3 L133.7,75.8 Z" fill="#55832a" stroke="#22360f" stroke-width="1.35" stroke-linejoin="round"/><path d="M125.7,79.9 L125.3,79.6 L124.6,79.5 L123.8,79.4 L122.9,79.5 L121.9,79.6 L120.8,79.8 L119.8,80.0 L118.7,80.2 L117.7,80.3 L116.8,80.5 L115.9,80.6 L115.1,80.7 L114.2,80.9 L113.4,81.0 L112.5,81.2 L111.7,81.3 L110.9,81.5 L110.0,81.7 L109.3,82.0 L108.5,82.3 L107.7,82.6 L106.9,82.9 L106.2,83.3 L105.4,83.7 L104.6,84.1 L103.9,84.6 L103.2,85.0 L102.6,85.5 L101.9,86.0 L101.3,86.4 L100.8,86.9 L100.3,87.4 L99.7,87.9 L99.3,88.5 L98.8,89.0 L98.4,89.6 L98.0,90.1 L97.7,90.7 L97.4,91.2 L97.2,91.8 L97.0,92.3 L96.9,92.9 L96.8,93.4 L96.7,94.0 L96.7,94.5 L96.8,95.0 L96.8,95.6 L96.9,96.1 L97.0,96.6 L97.2,97.2 L97.4,97.7 L97.6,98.2 L97.9,98.7 L98.2,99.2 L98.5,99.7 L98.8,100.1 L99.2,100.6 L99.5,101.1 L99.9,101.5 L100.2,101.9 L100.5,102.3 L100.7,102.6 L101.0,103.0 L101.2,103.4 L101.5,103.7 L101.8,104.0 L102.1,104.3 L102.4,104.5 L102.7,104.7 L103.1,104.8 L103.6,104.9 L104.0,105.0 L104.5,105.0 L105.0,105.0 L105.5,105.0 L106.1,104.9 L106.7,104.8 L107.3,104.7 L107.9,104.5 L108.5,104.3 L109.1,104.1 L109.8,103.8 L110.6,103.5 L111.3,103.2 L112.1,102.8 L112.8,102.4 L113.6,102.0 L114.3,101.6 L115.0,101.2 L115.6,100.7 L116.2,100.2 L116.7,99.7 L117.3,99.1 L117.8,98.5 L118.2,97.9 L118.7,97.3 L119.2,96.7 L119.6,96.0 L120.0,95.4 L120.4,94.7 L120.7,94.1 L121.1,93.4 L121.4,92.7 L121.7,92.0 L122.0,91.3 L122.3,90.6 L122.6,89.8 L122.8,89.1 L123.1,88.4 L123.4,87.6 L123.7,86.8 L124.0,86.0 L124.5,85.1 L124.9,84.2 L125.3,83.3 L125.6,82.4 L125.9,81.6 L126.0,80.9 L125.9,80.4 Z" fill="#94c04e" filter="url(#blur1)"/><path d="M96.3,114.6 Q113.7,94.2 132.7,74.4" fill="none" stroke="#3b5a1d" stroke-width="1.1" opacity="0.9"/><line x1="100.7" y1="109.8" x2="111.7" y2="108.9" stroke="#4a7025" stroke-width="0.75" opacity="0.8"/><line x1="100.7" y1="109.8" x2="93.3" y2="92.9" stroke="#4a7025" stroke-width="0.75" opacity="0.8"/><line x1="106.5" y1="103.3" x2="115.9" y2="104.9" stroke="#4a7025" stroke-width="0.75" opacity="0.8"/><line x1="106.5" y1="103.3" x2="97.4" y2="88.9" stroke="#4a7025" stroke-width="0.75" opacity="0.8"/><line x1="112.3" y1="96.9" x2="121.2" y2="98.0" stroke="#4a7025" stroke-width="0.75" opacity="0.8"/><line x1="112.3" y1="96.9" x2="104.9" y2="83.7" stroke="#4a7025" stroke-width="0.75" opacity="0.8"/><line x1="118.1" y1="90.5" x2="125.3" y2="90.4" stroke="#4a7025" stroke-width="0.75" opacity="0.8"/><line x1="118.1" y1="90.5" x2="114.1" y2="79.7" stroke="#4a7025" stroke-width="0.75" opacity="0.8"/><line x1="123.2" y1="84.9" x2="128.8" y2="83.3" stroke="#4a7025" stroke-width="0.75" opacity="0.8"/><line x1="123.2" y1="84.9" x2="121.9" y2="77.3" stroke="#4a7025" stroke-width="0.75" opacity="0.8"/><path d="M96.9,121.0 L98.4,120.3 L100.0,119.9 L101.1,118.7 L102.7,118.5 L104.2,118.4 L105.6,117.4 L107.1,117.4 L108.7,117.7 L110.2,117.0 L111.7,117.6 L113.1,118.3 L114.8,118.3 L116.0,119.3 L117.0,120.5 L118.7,120.9 L119.5,122.2 L120.3,123.6 L121.9,124.3 L122.6,125.7 L123.2,127.1 L124.7,127.9 L125.3,129.3 L125.8,130.8 L127.1,131.9 L127.2,133.6 L126.1,134.6 L124.8,135.6 L123.2,135.4 L121.7,135.0 L120.2,135.6 L118.7,135.2 L117.2,134.7 L115.6,135.3 L114.1,134.9 L112.6,134.4 L111.0,134.9 L109.6,134.3 L108.2,133.7 L106.5,134.0 L105.2,133.1 L104.0,132.1 L102.3,131.8 L101.4,130.4 L100.7,129.0 L99.3,128.2 L98.7,126.7 L98.1,125.3 L96.7,124.3 L96.6,122.7 Z" fill="#55832a" stroke="#22360f" stroke-width="1.35" stroke-linejoin="round"/><path d="M104.1,124.0 L104.4,123.7 L105.0,123.4 L105.6,123.1 L106.4,122.7 L107.2,122.5 L108.0,122.2 L108.9,122.0 L109.7,121.8 L110.5,121.7 L111.2,121.6 L111.8,121.7 L112.5,121.7 L113.1,121.8 L113.7,122.0 L114.2,122.2 L114.8,122.4 L115.4,122.8 L116.0,123.1 L116.5,123.5 L117.1,124.0 L117.7,124.6 L118.4,125.3 L119.1,126.2 L119.9,127.1 L120.6,128.0 L121.2,128.9 L121.8,129.8 L122.2,130.6 L122.4,131.2 L122.5,131.8 L122.3,132.1 L121.9,132.4 L121.4,132.5 L120.7,132.6 L120.0,132.6 L119.2,132.6 L118.3,132.5 L117.4,132.5 L116.6,132.4 L115.9,132.4 L115.2,132.3 L114.5,132.3 L113.7,132.2 L112.9,132.1 L112.2,132.0 L111.4,131.9 L110.7,131.7 L110.0,131.6 L109.3,131.4 L108.8,131.1 L108.3,130.9 L107.8,130.6 L107.4,130.2 L107.0,129.9 L106.6,129.5 L106.3,129.1 L106.0,128.7 L105.7,128.3 L105.5,128.0 L105.2,127.6 L105.0,127.2 L104.7,126.9 L104.5,126.5 L104.2,126.1 L104.0,125.7 L103.8,125.4 L103.7,125.0 L103.7,124.6 L103.8,124.3 Z" fill="#94c04e" filter="url(#blur1)"/><path d="M97.3,121.3 Q112.1,127.5 127.0,133.8" fill="none" stroke="#3b5a1d" stroke-width="1.1" opacity="0.9"/><line x1="100.9" y1="122.8" x2="103.3" y2="130.0" stroke="#4a7025" stroke-width="0.75" opacity="0.8"/><line x1="100.9" y1="122.8" x2="107.6" y2="118.8" stroke="#4a7025" stroke-width="0.75" opacity="0.8"/><line x1="105.6" y1="124.8" x2="106.5" y2="131.3" stroke="#4a7025" stroke-width="0.75" opacity="0.8"/><line x1="105.6" y1="124.8" x2="111.7" y2="120.0" stroke="#4a7025" stroke-width="0.75" opacity="0.8"/><line x1="110.4" y1="126.8" x2="111.3" y2="132.5" stroke="#4a7025" stroke-width="0.75" opacity="0.8"/><line x1="110.4" y1="126.8" x2="115.6" y2="122.1" stroke="#4a7025" stroke-width="0.75" opacity="0.8"/><line x1="115.1" y1="128.8" x2="117.0" y2="133.4" stroke="#4a7025" stroke-width="0.75" opacity="0.8"/><line x1="115.1" y1="128.8" x2="120.0" y2="125.8" stroke="#4a7025" stroke-width="0.75" opacity="0.8"/><line x1="119.3" y1="130.6" x2="121.0" y2="134.0" stroke="#4a7025" stroke-width="0.75" opacity="0.8"/><line x1="119.3" y1="130.6" x2="123.5" y2="129.5" stroke="#4a7025" stroke-width="0.75" opacity="0.8"/><path d="M44.1,211.4 L45.8,211.9 L47.1,212.8 L48.7,213.0 L49.8,214.2 L50.8,215.3 L52.5,215.7 L53.4,216.9 L54.4,218.1 L56.0,218.5 L56.9,219.8 L57.8,221.0 L59.4,221.6 L60.2,223.0 L60.9,224.3 L62.4,225.1 L63.0,226.5 L63.5,228.0 L64.8,229.1 L65.0,230.6 L65.1,232.2 L65.8,233.7 L65.2,235.2 L64.1,236.4 L63.7,238.0 L62.3,238.8 L60.9,239.4 L59.9,240.8 L58.3,241.0 L56.8,240.8 L55.1,241.2 L53.8,240.3 L52.7,239.3 L51.0,238.9 L50.1,237.6 L49.4,236.3 L48.0,235.4 L47.6,233.8 L47.3,232.3 L46.2,231.1 L46.1,229.5 L46.0,228.0 L45.0,226.7 L45.0,225.1 L45.1,223.6 L44.1,222.2 L44.1,220.7 L44.2,219.1 L43.3,217.7 L43.4,216.2 L43.6,214.7 L43.0,213.0 Z" fill="#55832a" stroke="#22360f" stroke-width="1.35" stroke-linejoin="round"/><path d="M47.0,216.4 L47.4,216.4 L48.0,216.5 L48.7,216.9 L49.5,217.3 L50.4,217.9 L51.3,218.5 L52.1,219.2 L53.0,219.9 L53.7,220.5 L54.4,221.0 L55.0,221.5 L55.6,222.1 L56.1,222.6 L56.6,223.2 L57.1,223.7 L57.6,224.3 L58.0,224.8 L58.4,225.4 L58.7,225.9 L59.0,226.4 L59.3,226.9 L59.5,227.4 L59.7,227.9 L59.9,228.4 L60.0,228.9 L60.0,229.3 L60.0,229.8 L60.0,230.2 L59.9,230.7 L59.7,231.1 L59.5,231.5 L59.1,231.9 L58.7,232.4 L58.2,232.8 L57.7,233.2 L57.2,233.6 L56.6,233.9 L56.1,234.2 L55.5,234.4 L55.0,234.4 L54.5,234.4 L54.0,234.3 L53.4,234.1 L52.9,233.9 L52.3,233.6 L51.8,233.2 L51.3,232.8 L50.8,232.3 L50.3,231.8 L49.9,231.3 L49.6,230.8 L49.2,230.1 L48.9,229.4 L48.6,228.7 L48.4,227.9 L48.2,227.1 L48.0,226.3 L47.8,225.4 L47.6,224.7 L47.4,223.9 L47.3,223.1 L47.1,222.2 L46.9,221.3 L46.7,220.3 L46.6,219.4 L46.5,218.5 L46.5,217.7 L46.6,217.1 L46.7,216.6 Z" fill="#94c04e" filter="url(#blur1)"/><path d="M57.2,241.0 Q51.1,226.5 44.3,211.9" fill="none" stroke="#3b5a1d" stroke-width="1.1" opacity="0.9"/><line x1="55.7" y1="237.5" x2="62.3" y2="231.7" stroke="#4a7025" stroke-width="0.75" opacity="0.8"/><line x1="55.7" y1="237.5" x2="49.8" y2="234.9" stroke="#4a7025" stroke-width="0.75" opacity="0.8"/><line x1="53.6" y1="232.9" x2="59.4" y2="226.7" stroke="#4a7025" stroke-width="0.75" opacity="0.8"/><line x1="53.6" y1="232.9" x2="48.6" y2="232.0" stroke="#4a7025" stroke-width="0.75" opacity="0.8"/><line x1="51.5" y1="228.2" x2="56.4" y2="222.9" stroke="#4a7025" stroke-width="0.75" opacity="0.8"/><line x1="51.5" y1="228.2" x2="47.0" y2="226.9" stroke="#4a7025" stroke-width="0.75" opacity="0.8"/><line x1="49.5" y1="223.5" x2="52.8" y2="219.0" stroke="#4a7025" stroke-width="0.75" opacity="0.8"/><line x1="49.5" y1="223.5" x2="45.7" y2="221.8" stroke="#4a7025" stroke-width="0.75" opacity="0.8"/><line x1="47.7" y1="219.5" x2="49.2" y2="215.6" stroke="#4a7025" stroke-width="0.75" opacity="0.8"/><line x1="47.7" y1="219.5" x2="44.7" y2="217.4" stroke="#4a7025" stroke-width="0.75" opacity="0.8"/><path d="M3.8,224.7 L5.0,223.4 L6.5,222.9 L7.6,221.6 L9.1,221.4 L10.7,221.3 L12.0,220.2 L13.5,220.2 L15.1,220.1 L16.4,219.1 L17.9,219.0 L19.5,219.0 L20.8,218.0 L22.4,218.1 L23.9,218.1 L25.3,217.2 L26.9,217.4 L28.4,217.6 L29.9,216.8 L31.5,217.1 L33.0,217.5 L34.5,216.9 L36.0,217.4 L37.4,218.1 L39.1,217.8 L40.4,218.7 L41.6,219.6 L43.3,219.9 L44.3,221.2 L44.9,222.6 L46.3,223.6 L46.7,225.1 L47.0,226.6 L48.2,227.8 L48.5,229.3 L48.7,230.8 L49.9,232.0 L50.1,233.5 L50.3,235.1 L51.4,236.4 L51.3,238.0 L50.9,239.4 L50.5,241.1 L48.9,241.5 L47.3,241.6 L45.9,242.5 L44.3,242.2 L42.8,241.9 L41.3,242.6 L39.8,242.3 L38.3,241.8 L36.7,242.4 L35.2,241.8 L33.8,241.2 L32.1,241.6 L30.7,240.9 L29.4,240.2 L27.7,240.5 L26.3,239.7 L25.0,238.9 L23.3,239.1 L22.0,238.2 L20.7,237.3 L19.1,237.4 L17.8,236.4 L16.7,235.4 L15.0,235.2 L13.9,234.1 L12.8,232.9 L11.2,232.7 L10.1,231.5 L9.1,230.3 L7.5,229.9 L6.6,228.7 L5.7,227.3 L4.2,226.5 Z" fill="#55832a" stroke="#22360f" stroke-width="1.35" stroke-linejoin="round"/><path d="M11.8,226.2 L12.0,225.7 L12.4,225.3 L13.1,224.9 L13.9,224.6 L14.8,224.2 L15.8,223.9 L16.9,223.6 L17.9,223.3 L18.9,223.1 L19.8,222.8 L20.7,222.6 L21.7,222.4 L22.6,222.2 L23.6,222.0 L24.6,221.9 L25.6,221.7 L26.6,221.6 L27.5,221.6 L28.4,221.5 L29.2,221.5 L30.0,221.6 L30.8,221.7 L31.5,221.8 L32.2,221.9 L32.9,222.1 L33.6,222.3 L34.2,222.5 L34.8,222.8 L35.4,223.2 L35.9,223.5 L36.4,224.0 L36.8,224.5 L37.2,225.0 L37.6,225.6 L37.9,226.3 L38.2,226.9 L38.5,227.6 L38.8,228.3 L39.0,228.9 L39.2,229.5 L39.5,230.2 L39.8,230.8 L40.0,231.5 L40.3,232.2 L40.5,232.9 L40.7,233.5 L40.8,234.1 L40.8,234.7 L40.8,235.2 L40.6,235.6 L40.3,236.0 L39.9,236.2 L39.4,236.4 L38.8,236.6 L38.2,236.7 L37.5,236.8 L36.7,236.9 L36.0,236.9 L35.3,236.9 L34.5,236.9 L33.8,236.9 L33.1,236.9 L32.3,236.8 L31.5,236.7 L30.7,236.6 L29.8,236.4 L29.0,236.2 L28.2,236.1 L27.4,235.8 L26.5,235.6 L25.7,235.4 L24.9,235.1 L24.1,234.8 L23.3,234.6 L22.4,234.2 L21.6,233.9 L20.8,233.5 L20.0,233.1 L19.2,232.7 L18.5,232.3 L17.7,231.8 L16.8,231.2 L15.9,230.6 L15.0,229.9 L14.1,229.2 L13.3,228.6 L12.7,227.9 L12.2,227.3 L11.8,226.7 Z" fill="#94c04e" filter="url(#blur1)"/><path d="M50.8,240.0 Q27.8,232.0 4.3,224.8" fill="none" stroke="#3b5a1d" stroke-width="1.1" opacity="0.9"/><line x1="45.2" y1="238.2" x2="42.4" y2="224.1" stroke="#4a7025" stroke-width="0.75" opacity="0.8"/><line x1="45.2" y1="238.2" x2="36.4" y2="240.5" stroke="#4a7025" stroke-width="0.75" opacity="0.8"/><line x1="37.8" y1="235.7" x2="37.4" y2="222.4" stroke="#4a7025" stroke-width="0.75" opacity="0.8"/><line x1="37.8" y1="235.7" x2="29.5" y2="238.6" stroke="#4a7025" stroke-width="0.75" opacity="0.8"/><line x1="30.3" y1="233.3" x2="29.8" y2="221.3" stroke="#4a7025" stroke-width="0.75" opacity="0.8"/><line x1="30.3" y1="233.3" x2="24.7" y2="237.0" stroke="#4a7025" stroke-width="0.75" opacity="0.8"/><line x1="22.9" y1="230.9" x2="20.9" y2="221.7" stroke="#4a7025" stroke-width="0.75" opacity="0.8"/><line x1="22.9" y1="230.9" x2="17.0" y2="233.7" stroke="#4a7025" stroke-width="0.75" opacity="0.8"/><line x1="16.4" y1="228.8" x2="13.5" y2="222.7" stroke="#4a7025" stroke-width="0.75" opacity="0.8"/><line x1="16.4" y1="228.8" x2="11.2" y2="230.3" stroke="#4a7025" stroke-width="0.75" opacity="0.8"/><path d="M20.0,281.2 L20.3,279.5 L20.8,278.0 L20.4,276.4 L21.1,275.0 L21.9,273.6 L21.7,272.0 L22.5,270.6 L23.3,269.3 L23.2,267.6 L24.1,266.3 L25.0,265.1 L24.9,263.4 L25.9,262.2 L26.9,261.0 L27.1,259.3 L28.2,258.2 L29.4,257.2 L29.8,255.6 L31.1,254.7 L32.4,253.9 L33.1,252.3 L34.5,251.6 L36.0,251.0 L36.9,249.7 L38.5,249.3 L40.0,249.1 L41.2,247.9 L42.8,247.8 L44.4,247.8 L45.8,246.9 L47.3,247.1 L48.9,247.5 L50.4,246.9 L51.9,247.6 L53.2,248.4 L54.9,248.5 L55.9,249.8 L56.5,251.3 L57.6,252.5 L57.4,254.2 L57.0,255.7 L57.4,257.3 L56.8,258.7 L56.1,260.1 L56.2,261.8 L55.3,263.0 L54.2,264.2 L53.9,265.8 L52.6,266.8 L51.3,267.6 L50.5,269.1 L49.1,269.7 L47.7,270.3 L46.8,271.8 L45.4,272.3 L43.9,272.8 L42.9,274.2 L41.4,274.6 L39.9,275.0 L38.8,276.2 L37.3,276.5 L35.7,276.8 L34.6,277.9 L33.0,278.1 L31.5,278.3 L30.3,279.5 L28.7,279.7 L27.2,280.0 L26.1,281.2 L24.6,281.5 L23.0,281.7 L21.4,282.5 Z" fill="#55832a" stroke="#22360f" stroke-width="1.35" stroke-linejoin="round"/><path d="M25.8,276.0 L25.8,275.3 L25.9,274.4 L26.1,273.3 L26.4,272.1 L26.8,270.8 L27.3,269.4 L27.7,268.0 L28.2,266.7 L28.7,265.6 L29.2,264.6 L29.6,263.7 L30.1,262.9 L30.6,262.1 L31.1,261.3 L31.7,260.7 L32.2,260.0 L32.8,259.4 L33.4,258.9 L34.0,258.3 L34.6,257.9 L35.2,257.4 L35.9,257.0 L36.5,256.7 L37.2,256.3 L37.9,256.1 L38.6,255.8 L39.3,255.6 L40.0,255.4 L40.7,255.3 L41.3,255.2 L41.9,255.1 L42.5,255.1 L43.1,255.1 L43.7,255.1 L44.2,255.2 L44.8,255.3 L45.3,255.4 L45.8,255.5 L46.2,255.7 L46.6,255.9 L47.0,256.1 L47.3,256.3 L47.6,256.6 L47.8,256.9 L48.1,257.2 L48.3,257.5 L48.4,257.9 L48.5,258.3 L48.6,258.7 L48.6,259.2 L48.6,259.8 L48.5,260.4 L48.4,261.0 L48.3,261.7 L48.2,262.4 L47.9,263.2 L47.7,263.9 L47.4,264.6 L47.0,265.3 L46.6,265.9 L46.1,266.5 L45.6,267.1 L45.0,267.7 L44.3,268.2 L43.7,268.8 L42.9,269.3 L42.2,269.8 L41.4,270.3 L40.7,270.8 L39.9,271.3 L39.2,271.7 L38.4,272.1 L37.5,272.5 L36.7,272.9 L35.9,273.2 L35.0,273.5 L34.2,273.9 L33.4,274.1 L32.6,274.4 L31.9,274.7 L31.1,274.9 L30.4,275.3 L29.6,275.6 L28.9,275.9 L28.1,276.2 L27.5,276.5 L26.9,276.6 L26.4,276.6 L26.1,276.4 Z" fill="#94c04e" filter="url(#blur1)"/><path d="M57.2,254.0 Q38.8,267.0 20.5,281.0" fill="none" stroke="#3b5a1d" stroke-width="1.1" opacity="0.9"/><line x1="52.8" y1="257.2" x2="40.7" y2="252.1" stroke="#4a7025" stroke-width="0.75" opacity="0.8"/><line x1="52.8" y1="257.2" x2="50.9" y2="265.7" stroke="#4a7025" stroke-width="0.75" opacity="0.8"/><line x1="46.9" y1="261.6" x2="37.0" y2="254.8" stroke="#4a7025" stroke-width="0.75" opacity="0.8"/><line x1="46.9" y1="261.6" x2="46.9" y2="268.7" stroke="#4a7025" stroke-width="0.75" opacity="0.8"/><line x1="41.1" y1="265.9" x2="31.4" y2="260.4" stroke="#4a7025" stroke-width="0.75" opacity="0.8"/><line x1="41.1" y1="265.9" x2="40.8" y2="272.5" stroke="#4a7025" stroke-width="0.75" opacity="0.8"/><line x1="35.2" y1="270.2" x2="27.1" y2="267.1" stroke="#4a7025" stroke-width="0.75" opacity="0.8"/><line x1="35.2" y1="270.2" x2="34.2" y2="275.7" stroke="#4a7025" stroke-width="0.75" opacity="0.8"/><line x1="30.0" y1="274.0" x2="24.0" y2="272.9" stroke="#4a7025" stroke-width="0.75" opacity="0.8"/><line x1="30.0" y1="274.0" x2="28.4" y2="278.4" stroke="#4a7025" stroke-width="0.75" opacity="0.8"/><path d="M133.9,193.9 L135.3,194.7 L136.4,195.8 L138.0,196.3 L138.8,197.7 L139.5,199.1 L141.0,199.8 L141.6,201.2 L142.2,202.7 L143.6,203.6 L144.1,205.0 L144.5,206.5 L145.8,207.6 L146.1,209.1 L146.4,210.6 L147.6,211.7 L147.8,213.3 L148.0,214.8 L149.0,216.1 L148.9,217.7 L148.5,219.2 L149.1,220.8 L148.4,222.3 L147.5,223.6 L147.3,225.2 L146.1,226.2 L144.7,227.0 L144.0,228.4 L142.5,229.0 L141.0,229.5 L140.1,230.9 L138.6,231.4 L137.1,231.8 L136.1,233.1 L134.6,233.4 L133.0,233.6 L131.8,234.8 L130.2,234.8 L128.7,234.7 L127.2,235.5 L125.7,234.7 L125.0,233.3 L123.6,232.5 L122.8,231.2 L121.9,230.0 L120.3,229.5 L119.5,228.2 L118.7,226.8 L117.2,226.0 L116.7,224.5 L116.3,223.0 L115.1,221.9 L115.1,220.3 L115.3,218.7 L114.6,217.2 L115.1,215.7 L115.7,214.3 L115.4,212.7 L116.2,211.3 L117.0,210.0 L117.0,208.3 L117.9,207.1 L119.0,205.9 L119.2,204.3 L120.3,203.2 L121.5,202.3 L122.0,200.7 L123.3,199.8 L124.7,199.0 L125.4,197.5 L126.8,196.9 L128.3,196.4 L129.2,195.0 L130.8,194.7 L132.3,194.6 Z" fill="#55832a" stroke="#22360f" stroke-width="1.35" stroke-linejoin="round"/><path d="M133.2,200.7 L133.7,200.8 L134.1,201.0 L134.6,201.3 L135.1,201.7 L135.5,202.1 L135.9,202.5 L136.4,203.0 L136.8,203.5 L137.2,204.0 L137.6,204.5 L138.0,205.0 L138.3,205.6 L138.7,206.1 L139.1,206.7 L139.4,207.3 L139.8,208.0 L140.1,208.6 L140.4,209.2 L140.7,209.8 L140.9,210.4 L141.2,210.9 L141.4,211.5 L141.6,212.0 L141.8,212.5 L142.0,213.1 L142.1,213.6 L142.3,214.1 L142.4,214.6 L142.4,215.1 L142.4,215.6 L142.4,216.1 L142.4,216.6 L142.3,217.1 L142.2,217.5 L142.1,218.0 L141.9,218.5 L141.7,218.9 L141.5,219.4 L141.1,219.8 L140.7,220.3 L140.3,220.7 L139.7,221.2 L139.0,221.7 L138.3,222.2 L137.5,222.7 L136.8,223.1 L136.0,223.6 L135.3,224.0 L134.6,224.3 L133.9,224.6 L133.3,224.9 L132.7,225.1 L132.2,225.3 L131.6,225.5 L131.1,225.6 L130.6,225.7 L130.1,225.8 L129.6,225.8 L129.2,225.8 L128.8,225.8 L128.5,225.7 L128.3,225.6 L128.1,225.5 L127.9,225.3 L127.8,225.1 L127.7,224.9 L127.5,224.7 L127.4,224.4 L127.2,224.2 L126.9,223.9 L126.6,223.6 L126.2,223.2 L125.8,222.9 L125.4,222.5 L125.0,222.1 L124.5,221.7 L124.1,221.3 L123.7,220.8 L123.4,220.4 L123.1,220.0 L122.8,219.5 L122.6,219.1 L122.3,218.6 L122.1,218.2 L122.0,217.7 L121.8,217.2 L121.7,216.7 L121.6,216.2 L121.6,215.7 L121.6,215.1 L121.6,214.5 L121.7,213.9 L121.9,213.2 L122.0,212.5 L122.2,211.8 L122.4,211.1 L122.7,210.3 L123.0,209.7 L123.3,209.0 L123.6,208.4 L123.9,207.8 L124.3,207.2 L124.7,206.6 L125.1,206.0 L125.5,205.5 L126.0,204.9 L126.5,204.4 L126.9,203.9 L127.4,203.5 L127.9,203.1 L128.4,202.7 L128.9,202.3 L129.4,202.0 L130.0,201.6 L130.5,201.3 L131.1,201.1 L131.6,200.9 L132.2,200.7 L132.7,200.7 Z" fill="#94c04e" filter="url(#blur1)"/><path d="M126.8,234.9 Q130.5,214.8 133.8,194.4" fill="none" stroke="#3b5a1d" stroke-width="1.1" opacity="0.9"/><line x1="127.6" y1="230.0" x2="141.9" y2="226.5" stroke="#4a7025" stroke-width="0.75" opacity="0.8"/><line x1="127.6" y1="230.0" x2="118.3" y2="222.1" stroke="#4a7025" stroke-width="0.75" opacity="0.8"/><line x1="128.8" y1="223.6" x2="143.6" y2="221.5" stroke="#4a7025" stroke-width="0.75" opacity="0.8"/><line x1="128.8" y1="223.6" x2="118.7" y2="217.6" stroke="#4a7025" stroke-width="0.75" opacity="0.8"/><line x1="129.9" y1="217.1" x2="143.7" y2="215.7" stroke="#4a7025" stroke-width="0.75" opacity="0.8"/><line x1="129.9" y1="217.1" x2="120.1" y2="211.8" stroke="#4a7025" stroke-width="0.75" opacity="0.8"/><line x1="131.0" y1="210.6" x2="141.8" y2="208.7" stroke="#4a7025" stroke-width="0.75" opacity="0.8"/><line x1="131.0" y1="210.6" x2="122.8" y2="205.6" stroke="#4a7025" stroke-width="0.75" opacity="0.8"/><line x1="132.0" y1="204.9" x2="139.1" y2="202.3" stroke="#4a7025" stroke-width="0.75" opacity="0.8"/><line x1="132.0" y1="204.9" x2="126.4" y2="200.4" stroke="#4a7025" stroke-width="0.75" opacity="0.8"/><path d="M175.7,235.7 L174.7,234.2 L173.4,233.3 L172.9,231.7 L171.5,230.9 L170.1,230.2 L169.4,228.7 L167.9,228.1 L166.5,227.4 L165.7,226.0 L164.2,225.4 L162.7,224.9 L161.8,223.6 L160.2,223.1 L158.7,222.7 L157.6,221.5 L156.1,221.2 L154.5,221.1 L153.2,220.0 L151.6,220.1 L150.1,220.3 L148.6,219.5 L147.0,219.9 L145.5,220.4 L143.9,219.8 L142.5,220.4 L141.1,221.1 L139.4,221.0 L138.1,221.9 L137.0,223.0 L135.4,223.4 L134.4,224.7 L133.6,226.0 L132.0,226.6 L131.3,228.0 L130.6,229.4 L129.2,230.3 L128.7,231.8 L128.3,233.3 L127.3,234.7 L128.0,236.2 L129.2,237.3 L129.9,238.8 L131.3,239.5 L132.8,240.0 L133.8,241.4 L135.3,241.8 L136.8,242.1 L137.9,243.4 L139.5,243.6 L141.1,243.7 L142.4,244.8 L143.9,244.7 L145.5,244.6 L147.0,245.5 L148.5,245.2 L150.0,244.8 L151.6,245.3 L153.1,244.7 L154.5,244.0 L156.1,244.3 L157.5,243.6 L158.9,242.8 L160.5,243.0 L161.8,242.1 L163.1,241.2 L164.8,241.3 L166.0,240.3 L167.3,239.4 L168.9,239.4 L170.2,238.5 L171.6,237.8 L173.2,238.0 L174.6,237.1 Z" fill="#55832a" stroke="#22360f" stroke-width="1.35" stroke-linejoin="round"/><path d="M167.9,234.9 L167.8,234.5 L167.5,234.1 L167.1,233.6 L166.7,233.1 L166.1,232.6 L165.5,232.1 L164.9,231.5 L164.3,231.0 L163.6,230.5 L163.0,230.1 L162.4,229.6 L161.8,229.2 L161.1,228.7 L160.4,228.3 L159.7,227.9 L159.0,227.5 L158.3,227.1 L157.6,226.7 L156.9,226.4 L156.3,226.2 L155.7,225.9 L155.1,225.7 L154.5,225.6 L153.9,225.5 L153.3,225.4 L152.7,225.3 L152.2,225.2 L151.6,225.2 L151.0,225.2 L150.5,225.2 L149.9,225.3 L149.3,225.3 L148.7,225.4 L148.1,225.5 L147.5,225.6 L146.9,225.7 L146.3,225.9 L145.7,226.1 L145.2,226.4 L144.6,226.7 L144.1,227.0 L143.5,227.4 L143.0,227.9 L142.4,228.4 L141.9,228.9 L141.4,229.5 L140.9,230.0 L140.5,230.5 L140.1,231.0 L139.8,231.5 L139.5,231.9 L139.3,232.3 L139.0,232.7 L138.8,233.1 L138.7,233.5 L138.6,233.9 L138.5,234.3 L138.6,234.6 L138.7,235.0 L138.9,235.4 L139.2,235.8 L139.6,236.2 L140.1,236.6 L140.6,237.1 L141.3,237.5 L141.9,237.9 L142.6,238.3 L143.3,238.6 L144.0,239.0 L144.6,239.2 L145.3,239.5 L145.9,239.7 L146.6,239.9 L147.3,240.1 L148.0,240.3 L148.7,240.4 L149.4,240.5 L150.1,240.6 L150.8,240.7 L151.5,240.7 L152.1,240.6 L152.8,240.6 L153.5,240.5 L154.2,240.4 L154.9,240.2 L155.6,240.0 L156.3,239.8 L156.9,239.6 L157.6,239.4 L158.2,239.2 L158.8,239.0 L159.5,238.8 L160.1,238.6 L160.7,238.3 L161.3,238.1 L161.8,237.8 L162.4,237.5 L163.0,237.3 L163.5,237.1 L164.0,236.8 L164.5,236.6 L165.0,236.5 L165.6,236.3 L166.1,236.2 L166.6,236.0 L167.0,235.9 L167.4,235.7 L167.7,235.5 L167.9,235.2 Z" fill="#94c04e" filter="url(#blur1)"/><path d="M128.4,236.5 Q151.7,235.6 175.2,235.7" fill="none" stroke="#3b5a1d" stroke-width="1.1" opacity="0.9"/><line x1="134.0" y1="236.4" x2="140.8" y2="242.4" stroke="#4a7025" stroke-width="0.75" opacity="0.8"/><line x1="134.0" y1="236.4" x2="141.0" y2="224.5" stroke="#4a7025" stroke-width="0.75" opacity="0.8"/><line x1="141.5" y1="236.3" x2="146.9" y2="242.8" stroke="#4a7025" stroke-width="0.75" opacity="0.8"/><line x1="141.5" y1="236.3" x2="146.4" y2="224.1" stroke="#4a7025" stroke-width="0.75" opacity="0.8"/><line x1="149.0" y1="236.1" x2="153.8" y2="242.0" stroke="#4a7025" stroke-width="0.75" opacity="0.8"/><line x1="149.0" y1="236.1" x2="153.1" y2="224.7" stroke="#4a7025" stroke-width="0.75" opacity="0.8"/><line x1="156.5" y1="236.0" x2="161.1" y2="240.2" stroke="#4a7025" stroke-width="0.75" opacity="0.8"/><line x1="156.5" y1="236.0" x2="160.7" y2="227.3" stroke="#4a7025" stroke-width="0.75" opacity="0.8"/><line x1="163.0" y1="235.9" x2="167.4" y2="238.1" stroke="#4a7025" stroke-width="0.75" opacity="0.8"/><line x1="163.0" y1="235.9" x2="167.0" y2="230.5" stroke="#4a7025" stroke-width="0.75" opacity="0.8"/>

<g stroke="#3f8797" stroke-width="0.8" stroke-linejoin="round" fill="#98d3e0">
<path d="M87.9,184 L108.6,173.6 L112,175.3 L89.6,181.4 Z"/>
<path d="M76.7,221.9 L68,224.5 L69.8,229.7 L77.5,230.5 Z"/>
<path d="M77.5,179.7 Q75.5,190 74.9,206.4 Q75.5,216 76.7,223.6 L77.5,230.5 L90.4,230.5 Q91.8,218 91.3,206.4 Q90.5,192 88.7,179.7 Z" fill="#9ad4e2"/>
</g>
<g stroke="#2e7082" stroke-width="0.9" fill="none" opacity="0.9">
<path d="M76,186 Q83,183 89.5,188"/>
<path d="M75.5,192 Q83,196 90.5,191"/>
<path d="M75.2,199 Q83,195 91,200"/>
<path d="M75,206 Q83,210 91.2,205"/>
<path d="M75.3,213 Q83,209 91.1,214"/>
<path d="M75.8,220 Q83,224 90.8,219"/>
<path d="M76.5,226 Q83,223 90.5,227"/>
<path d="M80,181 Q79,205 80.5,229" opacity="0.5"/>
<path d="M86,181 Q87.5,205 86.5,229" opacity="0.5"/>
</g>

<rect x="57.4" y="178.9" width="54" height="53.6" fill="none" stroke="#111" stroke-width="2.2"/>

<g stroke="#5a381a" stroke-width="1.5" stroke-linejoin="round">
<path d="M271.8,14 L317,14 L318.6,105 L319.7,119 L305.4,194 L290.3,125.8 L268.7,116 Q271.2,112 271.6,105 Z" fill="url(#wood)"/>
<path d="M257,124 Q267,170 273,215 L273,230 L272.5,319 L319.3,319 L318.3,240 Q318.3,215 319,205 Q323,170 329.8,118 L320.4,111.5 L311,165 L305.6,194.4 L300.3,165 L290.3,125.8 Z" fill="url(#wood2)"/>
<path d="M257.5,124.5 Q255.5,116 261,115 L289.5,123.7 Q291.5,125.5 290.3,126.5 Q285,130 278.8,129.6 Q266,128.5 257.5,124.5 Z" fill="#f4d3a8"/>
<path d="M320.4,110.5 L328.5,113.2 Q331,115.5 329.8,118.5 Q326,120 322,119.5 Q319.5,115 320.4,110.5 Z" fill="#f4d3a8"/>
</g>
<g fill="none" stroke-linecap="round" filter="url(#blur2)">
<path d="M287,135 Q294,165 300,192" stroke="#cf8c48" stroke-width="3" opacity="0.45"/>
<path d="M264,140 Q268,170 272,200" stroke="#f2c890" stroke-width="3" opacity="0.5"/>
<path d="M282,25 L281,105" stroke="#f2c890" stroke-width="6" opacity="0.5"/>
<path d="M311,25 L312,105" stroke="#d49250" stroke-width="5" opacity="0.35"/>
<path d="M312,140 Q310,175 313,215" stroke="#cf8a48" stroke-width="3" opacity="0.35"/>
<path d="M298,282 Q297,300 298,317" stroke="#a86a30" stroke-width="2.2" opacity="0.6"/>
</g>
<path d="M297,276 L318.5,276 L318.5,318 L298.5,318 Z" fill="#e48f40" opacity="0.5"/>


<g stroke="#3b788e" stroke-width="1.3" stroke-linejoin="round">
<path d="M271.5,259.5 L205.5,278.2 Q202.5,280.5 205,283.5 Q210.5,292 212,305 L213,311.5 Q214.5,315 218,313.5 L272.4,290.3 Z" fill="url(#tape)"/>
<path d="M249.5,211.2 Q262,219 274,225.5 Q300,238 318.8,239.8 Q322.5,250 320,263.5 Q292,262 272,252.5 Q252,244 236,230 Z" fill="url(#stripfade)" stroke="none"/>
<path d="M249.5,211.2 Q262,219 274,225.5 Q300,238 318.8,239.8 Q322.5,250 320,263.5 Q292,262 272,252.5 Q252,244 234.2,228.5" fill="none"/>
<path d="M272,252.5 Q292,262 320,263.5 Q322.5,270 320,277 Q296,280.5 272.7,275.6 Q270.3,268 272,252.5 Z" fill="url(#tape)"/>
</g>
<path d="M211,283.5 Q215,290 215.5,304" stroke="#4a8aa0" stroke-width="0.8" fill="none" opacity="0.8"/>
<path d="M212,284 L268,266" stroke="#5d9cb2" stroke-width="0.7" fill="none" opacity="0.6"/>
<g fill="none" stroke="#d6f1fb" stroke-linecap="round">
<path d="M220,288 L266,272" stroke-width="4" opacity="0.45"/>
<path d="M250,226 Q262,236 276,240" stroke-width="2.5" opacity="0.55"/>
<path d="M290,248 L313,254" stroke-width="2.5" opacity="0.6"/>
<path d="M282,268 L314,270" stroke-width="2" opacity="0.5"/>
</g>
<path d="M268.5,236.5 Q248,227 240,218 Q233.5,209 235,203 Q237,197.5 248,197" fill="none" stroke="url(#redg)" stroke-width="3.3" stroke-linecap="round"/>
<path d="M245.6,191.1 L259,196.2 L246.7,202.3 L247.8,196.9 Z" fill="#e0141a" stroke="#8a1a1e" stroke-width="0.6" stroke-linejoin="round"/>

<rect x="190.2" y="14.1" width="194" height="305.7" rx="1.2" fill="none" stroke="#151515" stroke-width="2.5"/>
<path d="M112,177 C134.8,161.1 184.7,128 239.8,140.5 L240.3,136.1 L257.5,152.1 L238.7,159.9 L238.7,154.3 C199.4,142.4 141.8,165 112,177 Z" fill="#c6c6c6" stroke="#474747" stroke-width="1.3" stroke-linejoin="round"/>
<line x1="389.3" y1="12.5" x2="389.3" y2="321" stroke="#555" stroke-width="1.2"/>
<line x1="301.5" y1="74.5" x2="511" y2="74.5" stroke="#111" stroke-width="2.2"/>
<path d="M509.5,66.5 L526,74.7 L509.5,82.8 Z" fill="#111"/>
<line x1="301.5" y1="221.3" x2="511" y2="221.3" stroke="#111" stroke-width="2.2"/>
<path d="M509.5,213.5 L525.5,221.5 L509.5,229.4 Z" fill="#111"/>
<rect x="548" y="47" width="207" height="207" fill="none" stroke="#222" stroke-width="2.2"/>
<g filter="url(#nofx)"><text transform="translate(570.79,89.6) scale(0.683,1)" font-size="28.34" fill="#141414" stroke="#141414" stroke-width="0.75">S</text><text transform="translate(585.75,89.6) scale(0.793,1)" font-size="28.34" fill="#141414" stroke="#141414" stroke-width="0.75">C</text><text transform="translate(603.13,89.6) scale(0.935,1)" font-size="28.34" fill="#141414" stroke="#141414" stroke-width="0.75">I</text><text transform="translate(611.37,89.6) scale(0.924,1)" font-size="28.34" fill="#141414" stroke="#141414" stroke-width="0.75">O</text><text transform="translate(633.15,89.6) scale(0.972,1)" font-size="28.34" fill="#141414" stroke="#141414" stroke-width="0.75">N</text>
<g filter="url(#nofx)"><text transform="translate(570.77,235.1) scale(0.704,1)" font-size="28.49" fill="#141414" stroke="#141414" stroke-width="0.75">S</text><text transform="translate(584.27,235.1) scale(0.959,1)" font-size="28.49" fill="#141414" stroke="#141414" stroke-width="0.75">T</text><text transform="translate(601.49,235.1) scale(0.904,1)" font-size="28.49" fill="#141414" stroke="#141414" stroke-width="0.75">O</text><text transform="translate(623.22,235.1) scale(0.805,1)" font-size="28.49" fill="#141414" stroke="#141414" stroke-width="0.75">C</text><text transform="translate(641.24,235.1) scale(0.789,1)" font-size="28.49" fill="#141414" stroke="#141414" stroke-width="0.75">K</text></g>

<g fill="#dc1f2e">
<path fill-rule="evenodd" d="M607.2,394.8 Q606.6,393.2 607.3,391.6 L616.3,371.4 Q618.2,368.2 620.1,371.4 L629.1,391.6 Q629.8,393.2 629.2,394.8 Q618.2,385.5 607.2,394.8 Z M614.6,387.8 L618.2,379.6 L621.8,387.8 Q618.2,385.8 614.6,387.8 Z"/>
<path fill-rule="evenodd" d="M645.7,370.3 L645.7,394.5 L633.4,394.5 Q631.6,394.5 631.6,392.7 L631.6,379.4 Q631.6,377.6 633.4,377.6 L641.5,377.6 L641.5,370.3 Z M635.8,382 L641.5,382 L641.5,390.4 L635.8,390.4 Z"/>
<path fill-rule="evenodd" d="M662.9,370.3 L662.9,394.5 L650.6,394.5 Q648.8,394.5 648.8,392.7 L648.8,379.4 Q648.8,377.6 650.6,377.6 L658.7,377.6 L658.7,370.3 Z M653,382 L658.7,382 L658.7,390.4 L653,390.4 Z"/>
<path fill-rule="evenodd" d="M666.9,377.6 L678.8,377.6 Q680.4,377.6 680.4,379.2 L680.4,394.5 L668.7,394.5 Q666.5,394.5 666.5,392.3 L666.5,386 Q666.5,384 668.5,384 L675.9,384 L675.9,381.6 L666.9,381.6 Z M670.7,387.8 L675.9,387.8 L675.9,390.6 L670.7,390.6 Z"/>
</g>
<rect x="683" y="368.4" width="57.4" height="27" rx="2" fill="none" stroke="#c23a4a" stroke-width="1.5"/>
<line x1="721.5" y1="368.4" x2="721.5" y2="395.4" stroke="#c8404e" stroke-width="1"/>
<g fill="#dc1f2e">
<path d="M687,372.3 L698.6,372.3 Q700.8,372.3 700.8,374.5 L700.8,379.8 Q700.8,384.4 696.3,384.4 L691,384.4 L691,388.4 L700.8,388.4 L700.8,392.6 L689.2,392.6 Q687,392.6 687,390.4 L687,383.2 Q687,380.8 689.4,380.8 L696.7,380.8 L696.7,376.3 L687,376.3 Z"/>
<path d="M703.9,372.3 L707.6,372.3 L707.6,380.8 L713,380.8 L713,372.3 L717,372.3 L717,380.8 L718.3,380.8 L718.3,384.3 L717,384.3 L717,392.7 L713,392.7 L713,384.3 L706,384.3 Q703.9,384.3 703.9,382.2 Z"/>
<path d="M724.5,372.2 L736.2,372.2 L730.2,393 L725.8,393 L731,376.4 L724.5,376.4 Z"/>
</g>

</svg>
</body></html>
